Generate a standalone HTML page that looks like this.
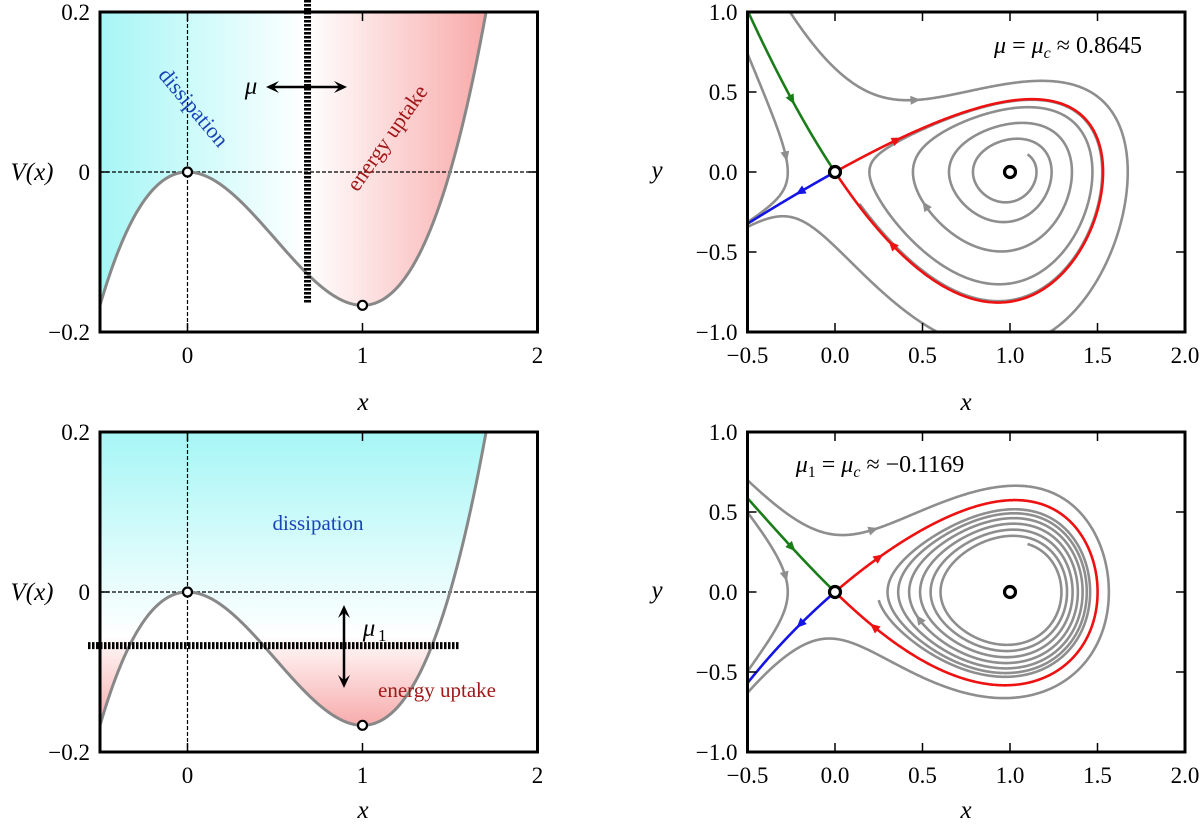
<!DOCTYPE html>
<html><head><meta charset="utf-8"><style>
html,body{margin:0;padding:0;background:#fff;}
svg text{font-family:"Liberation Serif",serif;}
</style></head><body>
<svg id="fig" xmlns="http://www.w3.org/2000/svg" width="1200" height="828" viewBox="0 0 1200 828">
<defs>
<linearGradient id="gTop" gradientUnits="userSpaceOnUse" x1="100" y1="0" x2="537.5" y2="0">
<stop offset="0" stop-color="#a6f6f6"/><stop offset="0.474" stop-color="#ffffff"/><stop offset="0.9" stop-color="#f8a6a6"/><stop offset="1" stop-color="#f59c9c"/>
</linearGradient>
<linearGradient id="gBot" gradientUnits="userSpaceOnUse" x1="0" y1="432" x2="0" y2="752">
<stop offset="0" stop-color="#a6f6f6"/><stop offset="0.64" stop-color="#ffffff"/><stop offset="0.67" stop-color="#fff2f2"/><stop offset="0.95" stop-color="#f6a2a2"/>
</linearGradient>
<clipPath id="cTL"><rect x="100" y="12" width="437.5" height="320"/></clipPath>
<clipPath id="cBL"><rect x="100" y="432" width="437.5" height="320"/></clipPath>
<clipPath id="cTR"><rect x="747.5" y="12" width="437.5" height="320"/></clipPath>
<clipPath id="cBR"><rect x="747.5" y="432" width="437.5" height="320"/></clipPath>
</defs>
<g id="root"></g>
</svg>
<script>
// ---------- data ----------
const potCoeffs = [0, 0, -0.5, 1/3];          // V(x) = sum c_k x^k
const potXTicks = [0, 1, 2];
const potYTicks = [0.2, 0, -0.2];
const potYTickLabels = ["0.2", "0", "\u22120.2"];
const phaseXTicks = [-0.5, 0, 0.5, 1, 1.5, 2];
const phaseXTickLabels = ["\u22120.5", "0.0", "0.5", "1.0", "1.5", "2.0"];
const phaseYTicks = [1, 0.5, 0, -0.5, -1];
const phaseYTickLabels = ["1.0", "0.5", "0.0", "\u22120.5", "\u22121.0"];
const equilibriaX = [0, 1];
const topMu = [0.8645];
const botMu = [-0.1169];
const topEps = [1.2];
const botEps = [1.0];
const topHatchX = [0.686];
const botHatchV = [-0.067];
const topSeeds = [[0.46, 0.45], [-0.27, 0.0]];
const topSpiralSeed = [1.1, 0.11];
const topSpiralStopX = [0.14];
const botSeeds = [[0.22, 0.39], [-0.27, 0.0]];
const botSpiralSeed = [1.1, 0.3];
const botSpiralStopX = [0.25];

const NS = "http://www.w3.org/2000/svg";
const root = document.getElementById('root');
function el(tag, attrs, parent) {
  const e = document.createElementNS(NS, tag);
  for (const k in attrs) e.setAttribute(k, attrs[k]);
  (parent || root).appendChild(e);
  return e;
}
function V(x) { let s = 0; for (let k = 0; k < potCoeffs.length; k++) s += potCoeffs[k] * Math.pow(x, k); return s; }

function mkAxes(L, T, xmin, xmax, ymin, ymax) {
  const W = 437.5, H = 320;
  return { L, T, W, H,
    px: x => L + (x - xmin) / (xmax - xmin) * W,
    py: y => T + (ymax - y) / (ymax - ymin) * H };
}
const aTL = mkAxes(100, 12, -0.5, 2, -0.2, 0.2);
const aBL = mkAxes(100, 432, -0.5, 2, -0.2, 0.2);
const aTR = mkAxes(747.5, 12, -0.5, 2, -1, 1);
const aBR = mkAxes(747.5, 432, -0.5, 2, -1, 1);

function frame(a, xt, xtl, yt, ytl, name) {
  const g = el('g', {});
  
  
  xt.forEach((v, i) => {
    const x = a.px(v);
    el('line', { x1: x, y1: a.T + a.H, x2: x, y2: a.T + a.H - 9, stroke: '#000', 'stroke-width': 1.5 }, g);
    el('line', { x1: x, y1: a.T, x2: x, y2: a.T + 9, stroke: '#000', 'stroke-width': 1.5 }, g);
    const t = el('text', { x: x, y: a.T + a.H + 31, 'font-size': 23, 'text-anchor': 'middle' }, g);
    
    
    t.textContent = xtl[i];
  });
  yt.forEach((v, i) => {
    const y = a.py(v);
    el('line', { x1: a.L, y1: y, x2: a.L + 9, y2: y, stroke: '#000', 'stroke-width': 1.5 }, g);
    el('line', { x1: a.L + a.W, y1: y, x2: a.L + a.W - 9, y2: y, stroke: '#000', 'stroke-width': 1.5 }, g);
    const t = el('text', { x: a.L - 10, y: y + 8, 'font-size': 23, 'text-anchor': 'end' }, g);
    
    
    t.textContent = ytl[i];
  });
  el('rect', { x: a.L, y: a.T, width: a.W, height: a.H, fill: 'none', stroke: '#000', 'stroke-width': 3 }, g);
}
function label(x, y, txt, name, size, extra) {
  const t = el('text', Object.assign({ x, y, 'font-size': size || 22, 'font-style': 'italic', 'text-anchor': 'middle' }, extra || {}));
  
  
  t.textContent = txt;
  return t;
}

function potCurvePts(a) {
  const pts = [];
  for (let x = -0.5; x <= 1.8; x += 0.005) pts.push([a.px(x), a.py(V(x))]);
  return pts;
}
function drawPotential(a, clip, fillId, name) {
  const g = el('g', { 'clip-path': 'url(#' + clip + ')' });
  
  
  const pts = potCurvePts(a);
  let d = 'M' + pts.map(p => p[0].toFixed(2) + ',' + p[1].toFixed(2)).join('L');
  const fill = el('path', { d: d + 'L' + pts[pts.length - 1][0] + ',' + (a.T - 50) + 'L' + a.L + ',' + (a.T - 50) + 'Z', fill: 'url(#' + fillId + ')', stroke: 'none' }, g);
  
  
  const dx = el('line', { x1: a.L, y1: a.py(0), x2: a.L + a.W, y2: a.py(0), stroke: '#000', 'stroke-width': 1.2, 'stroke-dasharray': '4,2' }, g);
  
  
  const dy = el('line', { x1: a.px(0), y1: a.T, x2: a.px(0), y2: a.T + a.H, stroke: '#000', 'stroke-width': 1.2, 'stroke-dasharray': '4,2' }, g);
  
  
  const c = el('path', { d, fill: 'none', stroke: '#888', 'stroke-width': 3 }, g);
  
  
  return g;
}
function eqMarkersPot(a, parent) {
  equilibriaX.forEach(x => {
    const c = el('circle', { cx: a.px(x), cy: a.py(V(x)), r: 4.5, fill: '#fff', stroke: '#000', 'stroke-width': 2.2 }, parent);
    
    
  });
}
function dblArrow(x1, y1, x2, y2, name) {
  const g = el('g', {});
  
  
  const ang = Math.atan2(y2 - y1, x2 - x1);
  const hl = 13, hw = 6;
  el('line', { x1: x1 + Math.cos(ang) * 6, y1: y1 + Math.sin(ang) * 6, x2: x2 - Math.cos(ang) * 6, y2: y2 - Math.sin(ang) * 6, stroke: '#000', 'stroke-width': 2.5 }, g);
  [[x2, y2, ang], [x1, y1, ang + Math.PI]].forEach(([x, y, a]) => {
    const bx = x - Math.cos(a) * hl, by = y - Math.sin(a) * hl;
    el('polygon', { points: `${x},${y} ${bx - Math.sin(a) * hw},${by + Math.cos(a) * hw} ${x - Math.cos(a) * hl * 0.6},${y - Math.sin(a) * hl * 0.6} ${bx + Math.sin(a) * hw},${by - Math.cos(a) * hw}`, fill: '#000' }, g);
  });
}

// top-left
const gTL = drawPotential(aTL, 'cTL', 'gTop', 'top-potential');
eqMarkersPot(aTL, gTL);
const hx = aTL.px(topHatchX[0]);
const hatch1 = el('line', { x1: hx, y1: 0, x2: hx, y2: 303, stroke: '#000', 'stroke-width': 7, 'stroke-dasharray': '2.5,1.5' });


dblArrow(266, 87, 347, 87, 'mu-shift-arrow');
label(251, 94, 'μ', 'mu-label', 25);
const tDis = el('text', { x: 0, y: 0, 'font-size': 22, fill: '#1844b4', 'text-anchor': 'middle', transform: 'translate(188,112) rotate(50)' });


tDis.textContent = 'dissipation';
const tUp = el('text', { x: 0, y: 0, 'font-size': 22, fill: '#a01818', 'text-anchor': 'middle', transform: 'translate(393,142) rotate(-55)' });


tUp.textContent = 'energy uptake';
frame(aTL, potXTicks, potXTicks.map(String), potYTicks, potYTickLabels, 'top-potential');
label(363, 410, 'x', 'x-axis-title', 25);
label(32, 180, 'V(x)', 'y-axis-title', 25);

// bottom-left
const gBL = drawPotential(aBL, 'cBL', 'gBot', 'bottom-potential');
eqMarkersPot(aBL, gBL);
const hy = aBL.py(botHatchV[0]);
const hatch2 = el('line', { x1: 88, y1: hy, x2: 460, y2: hy, stroke: '#000', 'stroke-width': 7, 'stroke-dasharray': '2.5,1.5' });


dblArrow(344, 605, 344, 688, 'mu1-shift-arrow');
label(369, 636, 'μ', 'mu1-label', 25);
const sub = el('text', { x: 378, y: 641, 'font-size': 17 });


sub.textContent = '1';
const tDis2 = el('text', { x: 318, y: 530, 'font-size': 21, fill: '#1844b4', 'text-anchor': 'middle' });


tDis2.textContent = 'dissipation';
const tUp2 = el('text', { x: 437, y: 697, 'font-size': 21, fill: '#a01818', 'text-anchor': 'middle' });


tUp2.textContent = 'energy uptake';
frame(aBL, potXTicks, potXTicks.map(String), potYTicks, potYTickLabels, 'bottom-potential');
label(363, 818, 'x', 'x-axis-title', 25);
label(32, 600, 'V(x)', 'y-axis-title', 25);

// ---------- phase portraits ----------
function fTop(x, y, m, e) { return [y, x - x * x + e * (x - m) * y]; }
function fBot(x, y, m, e) { return [y, x - x * x - e * (V(x) - m) * y]; }
function integrate(f, m, e, x0, y0, dir, maxT, stop) {
  const dt = 0.004 * dir; let x = x0, y = y0; const pts = [[x, y]];
  const n = Math.abs(maxT / dt);
  for (let i = 0; i < n; i++) {
    const k1 = f(x, y, m, e), k2 = f(x + dt / 2 * k1[0], y + dt / 2 * k1[1], m, e),
      k3 = f(x + dt / 2 * k2[0], y + dt / 2 * k2[1], m, e), k4 = f(x + dt * k3[0], y + dt * k3[1], m, e);
    x += dt / 6 * (k1[0] + 2 * k2[0] + 2 * k3[0] + k4[0]);
    y += dt / 6 * (k1[1] + 2 * k2[1] + 2 * k3[1] + k4[1]);
    if (!isFinite(x) || !isFinite(y)) break;
    pts.push([x, y]);
    if (x < -0.8 || x > 2.3 || y < -1.4 || y > 1.4) break;
    if (stop && stop(x, y)) break;
  }
  return pts;
}
function saddleC(kind, m, e) { return kind === 'top' ? e * m : -e * m; }
function eig(c) { const s = Math.sqrt(c * c + 4); return [(-c + s) / 2, (-c - s) / 2]; }
function escapes(kind, m, e) {
  const f = kind === 'top' ? fTop : fBot;
  const lp = eig(saddleC(kind, m, e))[0];
  const d = 1e-5; let x = d, y = d * lp, hadNeg = false;
  const dt = 0.004;
  for (let i = 0; i < 20000; i++) {
    const k1 = f(x, y, m, e), k2 = f(x + dt / 2 * k1[0], y + dt / 2 * k1[1], m, e),
      k3 = f(x + dt / 2 * k2[0], y + dt / 2 * k2[1], m, e), k4 = f(x + dt * k3[0], y + dt * k3[1], m, e);
    x += dt / 6 * (k1[0] + 2 * k2[0] + 2 * k3[0] + k4[0]);
    const yn = y + dt / 6 * (k1[1] + 2 * k2[1] + 2 * k3[1] + k4[1]);
    if (!isFinite(x) || !isFinite(yn) || x > 4 || Math.abs(yn) > 6) return true;
    if (yn < 0) hadNeg = true;
    if (x < 0) return true;
    if (hadNeg && yn > 0) return false;
    y = yn;
  }
  return false;
}
function critical(kind, lo, hi, e) {
  const loEsc = escapes(kind, lo, e);
  for (let i = 0; i < 40; i++) {
    const mid = (lo + hi) / 2;
    if (escapes(kind, mid, e) === loEsc) lo = mid; else hi = mid;
  }
  return (lo + hi) / 2;
}
function pathD(a, pts) {
  let d = '';
  for (let i = 0; i < pts.length; i += 3) d += (i ? 'L' : 'M') + a.px(pts[i][0]).toFixed(2) + ',' + a.py(pts[i][1]).toFixed(2);
  const l = pts[pts.length - 1]; d += 'L' + a.px(l[0]).toFixed(2) + ',' + a.py(l[1]).toFixed(2);
  return d;
}
function arrowNear(a, pts, tx, ty, color, g) {
  if (pts.length < 12) return;
  let bi = 1, bd = 1e9;
  for (let i = 1; i < pts.length - 1; i++) {
    const dd = (pts[i][0] - tx) ** 2 + (pts[i][1] - ty) ** 2;
    if (dd < bd) { bd = dd; bi = i; }
  }
  if (bi + 5 >= pts.length) bi = pts.length - 6;
  if (bi < 5) bi = 5;
  const x = a.px(pts[bi][0]), y = a.py(pts[bi][1]);
  const ang = Math.atan2(a.py(pts[bi + 5][1]) - a.py(pts[bi - 5][1]), a.px(pts[bi + 5][0]) - a.px(pts[bi - 5][0]));
  const L = 10, W = 4.5;
  const tip = [x + Math.cos(ang) * L / 2, y + Math.sin(ang) * L / 2];
  const b = [x - Math.cos(ang) * L / 2, y - Math.sin(ang) * L / 2];
  const p = el('polygon', { points: `${tip[0]},${tip[1]} ${b[0] - Math.sin(ang) * W},${b[1] + Math.cos(ang) * W} ${b[0] + Math.sin(ang) * W},${b[1] - Math.cos(ang) * W}`, fill: color }, g);
  
  
}
function line(a, pts, color, g, name) {
  const p = el('path', { d: pathD(a, pts), fill: 'none', stroke: color, 'stroke-width': 2.6, 'stroke-linejoin': 'round' }, g);
  
  
}

function phasePanel(kind, a, clip, eps, seeds, spiralSeed, spiralStop, range, arrowsGray, arrowsMan, name) {
  const f = kind === 'top' ? fTop : fBot;
  const m = critical(kind, range[0], range[1], eps);
  const g = el('g', { 'clip-path': 'url(#' + clip + ')' });
  
  
  const gray = '#8e8e8e';
  seeds.forEach((s, i) => {
    const fw = integrate(f, m, eps, s[0], s[1], 1, 40);
    const bw = integrate(f, m, eps, s[0], s[1], -1, 40);
    const pts = bw.reverse().concat(fw.slice(1));
    line(a, pts, gray, g, 'streamline');
    arrowsGray[i].forEach(t => arrowNear(a, pts, t[0], t[1], gray, g));
  });
  const sp = integrate(f, m, eps, spiralSeed[0], spiralSeed[1], 1, 400, (x, y) => x < spiralStop);
  line(a, sp, gray, g, 'spiral-streamline');
  arrowsGray[seeds.length].forEach(t => arrowNear(a, sp, t[0], t[1], gray, g));
  const [lp, lm] = eig(saddleC(kind, m, eps));
  const d = 1e-4;
  let hadNeg = false;
  const red = integrate(f, m, eps, d, d * lp, 1, 60, (x, y) => { if (y < -0.05) hadNeg = true; return hadNeg && (x < 0.004 || y > 0); });
  red.push([0, 0]);
  const green = integrate(f, m, eps, -d, -d * lm, -1, 40).reverse();
  const blue = integrate(f, m, eps, -d, -d * lp, 1, 40);
  line(a, green, '#1a7d1a', g, 'stable-manifold');
  line(a, blue, '#1414e6', g, 'unstable-manifold-left');
  line(a, red, '#ee1111', g, 'homoclinic-orbit');
  arrowNear(a, green, arrowsMan[0][0], arrowsMan[0][1], '#1a7d1a', g);
  arrowNear(a, blue, arrowsMan[1][0], arrowsMan[1][1], '#1414e6', g);
  arrowNear(a, red, arrowsMan[2][0], arrowsMan[2][1], '#ee1111', g);
  arrowNear(a, red, arrowsMan[3][0], arrowsMan[3][1], '#ee1111', g);
  equilibriaX.forEach(x => {
    const c = el('circle', { cx: a.px(x), cy: a.py(0), r: 5.5, fill: '#fff', stroke: '#000', 'stroke-width': 3.2 }, g);
    
    
  });
}

phasePanel('top', aTR, 'cTR', topEps[0], topSeeds, topSpiralSeed, topSpiralStopX[0], [0.2, 1.4],
  [[[0.46, 0.45]], [[-0.27, 0.1]], [[0.45, -0.25]]],
  [[-0.19, 0.48], [-0.19, -0.14], [0.35, 0.21], [0.33, -0.45]], 'top-phase');
frame(aTR, phaseXTicks, phaseXTickLabels, phaseYTicks, phaseYTickLabels, 'top-phase');
label(966, 410, 'x', 'x-axis-title', 25);
label(657, 178, 'y', 'y-axis-title', 25);
const ann1 = el('text', { x: 1068, y: 53, 'font-size': 24, 'text-anchor': 'middle' });


ann1.innerHTML = '<tspan font-style="italic">μ</tspan> = <tspan font-style="italic">μ</tspan><tspan font-style="italic" font-size="16" dy="5">c</tspan><tspan dy="-5"> ≈ ' + topMu[0].toFixed(4) + '</tspan>';

phasePanel('bot', aBR, 'cBR', botEps[0], botSeeds, botSpiralSeed, botSpiralStopX[0], [-0.165, 0.0],
  [[[0.22, 0.39]], [[-0.27, 0.1]], [[0.48, -0.17]]],
  [[-0.22, 0.3], [-0.18, -0.22], [0.25, 0.22], [0.22, -0.22]], 'bottom-phase');
frame(aBR, phaseXTicks, phaseXTickLabels, phaseYTicks, phaseYTickLabels, 'bottom-phase');
label(966, 818, 'x', 'x-axis-title', 25);
label(657, 598, 'y', 'y-axis-title', 25);
const ann2 = el('text', { x: 880, y: 472, 'font-size': 24, 'text-anchor': 'middle' });


ann2.innerHTML = '<tspan font-style="italic">μ</tspan><tspan font-size="16" dy="5">1</tspan><tspan dy="-5"> = </tspan><tspan font-style="italic">μ</tspan><tspan font-style="italic" font-size="16" dy="5">c</tspan><tspan dy="-5"> ≈ \u2212' + Math.abs(botMu[0]).toFixed(4) + '</tspan>';
</script>
</body></html>
